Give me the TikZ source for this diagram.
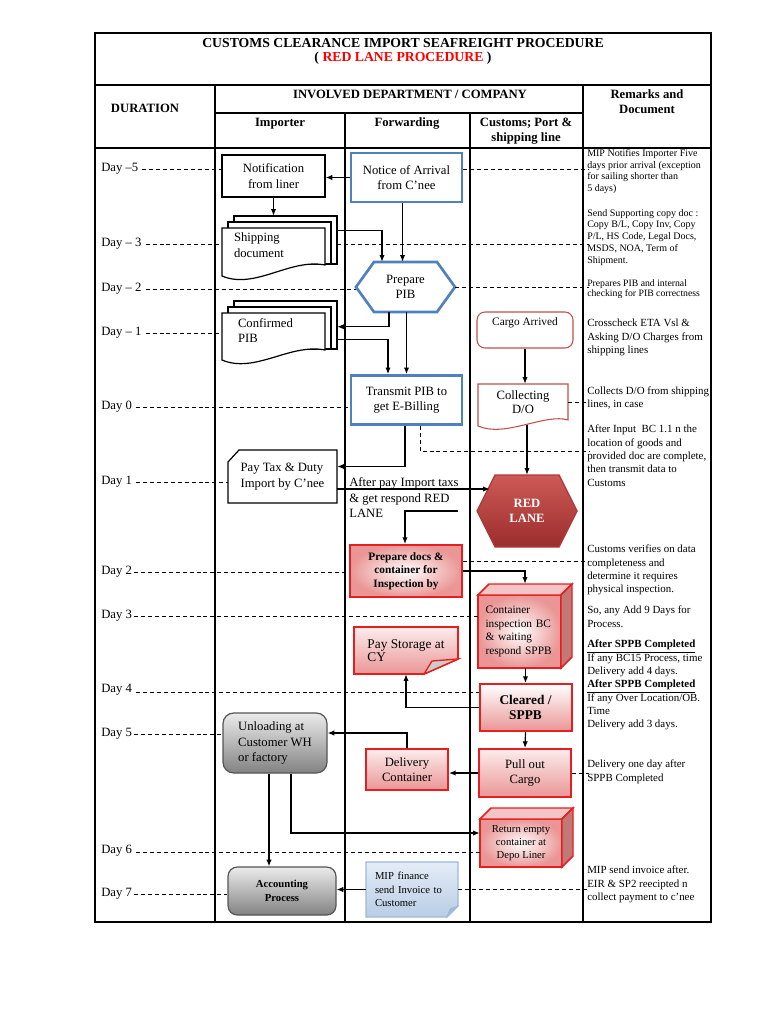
\documentclass[tikz,border=0pt]{standalone}
\usepackage{fontspec}
\setmainfont{Liberation Serif}
\usetikzlibrary{calc,arrows.meta}
\definecolor{pblue}{RGB}{79,129,189}
\definecolor{bred}{RGB}{232,30,30}
\definecolor{mred}{RGB}{192,80,77}
\definecolor{pinkA}{RGB}{252,236,236}
\definecolor{pinkB}{RGB}{234,150,150}
\definecolor{laneA}{RGB}{205,90,86}
\definecolor{laneB}{RGB}{155,45,45}
\definecolor{laneD}{RGB}{170,60,58}
\definecolor{grayA}{RGB}{235,235,235}
\definecolor{grayB}{RGB}{130,130,130}
\definecolor{grayD}{RGB}{85,85,85}
\definecolor{blueA}{RGB}{228,236,246}
\definecolor{blueB}{RGB}{185,205,229}
\definecolor{blueD}{RGB}{160,185,215}
\definecolor{sideR}{RGB}{195,120,120}
\newcommand\fs[2]{\fontsize{#1}{#2}\selectfont}
\begin{document}
\begin{tikzpicture}[x=0.75pt,y=-0.75pt,
  tline/.style={line width=0.8pt},
  cline/.style={line width=0.9pt},
  arr/.style={cline,-{Latex[length=5pt,width=4pt]}},
  dline/.style={line width=0.6pt,dash pattern=on 3pt off 2.2pt},
  txt/.style={inner sep=0pt,align=center,font=\fs{9.5}{11.5}},
  ltxt/.style={inner sep=0pt,align=left,font=\fs{9.5}{11.5}},
  rem/.style={anchor=north west,inner sep=0pt,align=left,font=\fs{8.2}{10}},
  daylbl/.style={anchor=west,inner sep=0pt,font=\fs{9.5}{11.5}},
  hdr/.style={inner sep=0pt,align=center,font=\bfseries\fs{9.5}{11}},
  wh/.style 2 args={minimum width=#1*0.75pt,minimum height=#2*0.75pt},
  redbox/.style={draw=bred,line width=1.5pt},
  cubeface/.style={draw=bred,line width=1.1pt},
]
\useasboundingbox[fill=white] (0,0) rectangle (768,1024);

% ---------- table ----------
\draw[tline] (95,33) rectangle (711,922);
\draw[tline] (95,85) -- (711,85);
\draw[tline] (215,113) -- (583,113);
\draw[tline] (95,148) -- (711,148);
\draw[tline] (215,85) -- (215,922);
\draw[tline] (583,85) -- (583,922);
\draw[tline] (345,113) -- (345,922);
\draw[tline] (470,113) -- (470,922);

\node[hdr,font=\bfseries\fs{10.3}{12}] (title) at (403,43) {CUSTOMS CLEARANCE IMPORT SEAFREIGHT PROCEDURE};
\node[hdr,font=\bfseries\fs{10.3}{12}] (subtitle) at (403,58) {( {\color{red}RED LANE PROCEDURE} )};
\node[hdr] (dur) at (145,108) {DURATION};
\node[hdr] (inv) at (410,94) {INVOLVED DEPARTMENT / COMPANY};
\node[hdr] (remh) at (647,102) {Remarks and\\Document};
\node[hdr] (imp) at (280,124) {Importer};
\node[hdr] (fwd) at (407,124) {Forwarding};
\node[hdr] (cus) at (526,131) {Customs; Port \&\\shipping line};

% ---------- day labels ----------
\node[daylbl] (dm5) at (101,169) {Day --5};
\node[daylbl] (dm3) at (101,244) {Day -- 3};
\node[daylbl] (dm2) at (101,289) {Day -- 2};
\node[daylbl] (dm1) at (101,333) {Day -- 1};
\node[daylbl] (d0) at (101,407) {Day 0};
\node[daylbl] (d1) at (101,482) {Day 1};
\node[daylbl] (d2) at (101,572) {Day 2};
\node[daylbl] (d3) at (101,616) {Day 3};
\node[daylbl] (d4) at (101,690) {Day 4};
\node[daylbl] (d5) at (101,734) {Day 5};
\node[daylbl] (d6) at (101,851) {Day 6};
\node[daylbl] (d7) at (101,894) {Day 7};
\coordinate (rx) at (589,0);

% ---------- shapes drawn directly ----------
% shipping document (multi document)
\foreach \d in {12,6}{\draw[cline,fill=white] (222+\d,228-\d) rectangle (325+\d,264);}
\draw[cline,fill=white] (222,228) -- (325,228) -- (325,265) .. controls (290,258) and (255,290) .. (222,276) -- cycle;
% confirmed PIB
\foreach \d in {12,6}{\draw[cline,fill=white] (222+\d,313-\d) rectangle (325+\d,349);}
\draw[cline,fill=white] (222,313) -- (325,313) -- (325,350) .. controls (290,343) and (255,374) .. (222,360) -- cycle;
% prepare PIB hexagon
\draw[draw=pblue,line width=2pt,fill=white] (356,287) -- (374,262) -- (437,262) -- (455,287) -- (437,312) -- (374,312) -- cycle;
% pay tax (cut corner)
\draw[cline,fill=white] (228,462) -- (239,450) -- (337,450) -- (337,503) -- (228,503) -- cycle;
% collecting D/O
\draw[draw=mred,line width=0.8pt,fill=white] (478,384) -- (568,384) -- (568,420) .. controls (545,413) and (505,438) .. (478,426) -- cycle;
% RED LANE hexagon
\draw[draw=laneD,line width=1pt,top color=laneA,bottom color=laneB] (477,511) -- (495,475) -- (559,475) -- (577,511) -- (559,547) -- (495,547) -- cycle;
% container inspection cube
\draw[cubeface,inner color=white,outer color=pinkB] (478,595) rectangle (561,668);
\draw[cubeface,fill=pinkB!55!white] (478,595) -- (489,584) -- (572,584) -- (561,595) -- cycle;
\draw[cubeface,fill=sideR] (561,595) -- (572,584) -- (572,657) -- (561,668) -- cycle;
% return empty cube
\draw[cubeface,inner color=white,outer color=pinkB] (480,819) rectangle (562,867);
\draw[cubeface,fill=pinkB!55!white] (480,819) -- (491,808) -- (573,808) -- (562,819) -- cycle;
\draw[cubeface,fill=sideR] (562,819) -- (573,808) -- (573,856) -- (562,867) -- cycle;
% pay storage note
\draw[draw=bred,line width=1.3pt,top color=pinkA,bottom color=pinkB] (354,627) -- (458,627) -- (458,659) -- (424,674) -- (354,674) -- cycle;
\draw[draw=bred,line width=1pt,fill=gray!40] (424,674) -- (432,661) -- (458,659) -- cycle;
% MIP finance note
\draw[draw=blueD,line width=0.8pt,top color=blueA,bottom color=blueB] (366,862) -- (458,862) -- (458,906) -- (447,917) -- (366,917) -- cycle;
\draw[draw=blueD,line width=0.6pt,fill=blueD] (447,917) -- (450,909) -- (458,906) -- cycle;

% ---------- nodes ----------
\node[txt,draw,cline,wh={103}{42}] (notif) at (273.5,176) {Notification\\from liner};
\node[txt,draw=pblue,line width=2pt,wh={111}{49}] (notice) at (406.5,177.5) {Notice of Arrival\\from C’nee};
\node[ltxt,text width=59.25pt,wh={103}{34}] (ship) at (273.5,245) {Shipping\\document};
\node[txt,wh={99}{50}] (pib) at (405.5,287) {Prepare\\PIB};
\node[ltxt,text width=53.25pt,wh={103}{35}] (conf) at (273.5,330.5) {Confirmed\\PIB};
\node[txt,draw=pblue,line width=2pt,wh={111}{49}] (trans) at (406.5,400) {Transmit PIB to\\get E-Billing};
\node[ltxt,wh={109}{53}] (paytax) at (282.5,476.5) {Pay Tax \& Duty\\Import by C’nee};
\node[ltxt,anchor=north west,font=\fs{9.5}{11.6}] (aftertxt) at (349,477.5) {After pay Import taxs\\\& get respond RED\\LANE};
\node[txt,draw=mred,line width=0.8pt,rounded corners=6pt,wh={96}{36},font=\fs{8.5}{10}] (cargo) at (525,330) {Cargo Arrived\\\strut};
\node[txt,wh={90}{36},font=\fs{9.5}{10.5}] (coll) at (523,402) {Collecting\\D/O};
\node[txt,wh={100}{72},text=white,font=\bfseries\fs{9.5}{11}] (redlane) at (527,511) {RED\\LANE};
\node[txt,redbox,inner color=white,outer color=pinkB,wh={112}{52},font=\bfseries\fs{8.5}{10}] (prep) at (406,571) {Prepare docs \&\\container for\\Inspection by};
\node[ltxt,text width=51pt,wh={83}{73},font=\fs{8.5}{10.2}] (cont) at (519.5,631.5) {Container\\inspection BC\\\& waiting\\respond SPPB};
\node[ltxt,wh={104}{47},font=\fs{10}{10}] (store) at (406,650.5) {Pay Storage at\\CY};
\node[txt,redbox,top color=white,bottom color=pinkB,wh={92}{47},font=\bfseries\fs{10}{11.5}] (clear) at (525.5,707.5) {Cleared /\\SPPB};
\node[txt,redbox,top color=pinkA,bottom color=pinkB,wh={92}{48}] (pull) at (525,773) {Pull out\\Cargo};
\node[txt,redbox,top color=pinkA,bottom color=pinkB,wh={82}{41}] (deliv) at (407,769.5) {Delivery\\Container};
\node[ltxt,draw=grayD,line width=0.9pt,rounded corners=8pt,top color=grayA,bottom color=grayB,wh={104}{60},font=\fs{9.5}{11.3}] (unload) at (275,743) {Unloading at\\Customer WH\\or factory};
\node[txt,wh={82}{48},font=\fs{8}{9.5}] (ret) at (521,843) {Return empty\\container at\\Depo Liner};
\node[txt,draw=grayD,line width=0.9pt,rounded corners=7pt,top color=grayA,bottom color=grayB,wh={108}{48},font=\bfseries\fs{8}{10}] (acct) at (282,891) {Accounting\\Process};
\node[ltxt,text width=55.5pt,wh={92}{55},font=\fs{8}{10}] (mip) at (412,889.5) {MIP finance\\send Invoice to\\Customer};

% ---------- remarks ----------
\node[rem,font=\fs{7.5}{8.8}] (r1) at (587,149) {MIP Notifies Importer Five\\days prior arrival (exception\\for sailing shorter than\\5 days)};
\node[rem,font=\fs{7.5}{8.8}] (r2) at (587,209) {Send Supporting copy doc :\\Copy B/L, Copy Inv, Copy\\P/L, HS Code, Legal Docs,\\MSDS, NOA, Term of\\Shipment.};
\node[rem,font=\fs{7.3}{7.8}] (r3) at (587,279) {Prepares PIB and internal\\checking for PIB correctness};
\node[rem] (r4) at (587,319) {Crosscheck ETA Vsl \&\\Asking D/O Charges from\\shipping lines};
\node[rem,font=\fs{8.2}{9.6}] (r5) at (587,387) {Collects D/O from shipping\\lines, in case};
\node[rem] (r6) at (587,425) {After Input\ \ BC 1.1 n the\\location of goods and\\provided doc are complete,\\then transmit data to\\Customs};
\node[rem] (r7) at (587,545) {Customs verifies on data\\completeness and\\determine it requires\\physical inspection.};
\node[rem] (r8) at (587,606) {So, any Add 9 Days for\\Process.};
\node[rem] (r9) at (587,640) {\textbf{\underline{After SPPB Completed}}\\If any BC15 Process, time\\Delivery add 4 days.\\\textbf{\underline{After SPPB Completed}}\\If any Over Location/OB.\\Time\\Delivery add 3 days.};
\node[rem] (r10) at (587,760) {Delivery one day after\\SPPB Completed};
\node[rem] (r11) at (587,866) {MIP send invoice after.\\EIR \& SP2 reecipted n\\collect payment to c’nee};

% ---------- dashed guide lines ----------
\draw[dline] ($(dm5.east)+(4,0)$) -- (dm5.east -| notif.west);
\draw[dline] ($(dm3.east)+(4,0)$) -- (dm3.east -| ship.west);
\draw[dline] ($(dm2.east)+(4,0)$) -- (dm2.east -| pib.west);
\draw[dline] ($(dm1.east)+(4,0)$) -- (dm1.east -| conf.west);
\draw[dline] ($(d0.east)+(4,0)$) -- (d0.east -| trans.west);
\draw[dline] ($(d1.east)+(4,0)$) -- (d1.east -| paytax.west);
\draw[dline] ($(d2.east)+(2,0)$) -- (d2.east -| prep.west);
\draw[dline] ($(d3.east)+(2,0)$) -- (d3.east -| cont.west);
\draw[dline] ($(d4.east)+(4,2)$) -- ($(d4.east -| clear.west)+(0,2)$);
\draw[dline] ($(d5.east)+(2,0)$) -- (d5.east -| unload.west);
\draw[dline] ($(d6.east)+(4,1)$) -- ($(d6.east -| ret.west)+(0,1)$);
\draw[dline] ($(d7.east)+(2,0)$) -- (d7.east -| acct.west);

\draw[dline] (notice.east |- dm5.east) -- (rx |- dm5.east);
\draw[dline] ($(ship.east)+(12,-1)$) -- (rx |- dm3.east);
\draw[dline] (pib.east) -- (pib.east -| rx);
\draw[dline] (coll.east) -- (coll.east -| rx);
\draw[dline] ($(trans.south)+(13.5,0)$) |- ($(rx)+(0,451)$);
\draw[dline] ($(prep.east)+(0,-10)$) -- ($(rx)+(0,561)$);
\draw[dline] (pull.east) -- (pull.east -| rx);
\draw[dline] (mip.east) -- (mip.east -| rx);

% ---------- connectors ----------
\draw[arr] (notice.west) -- (notice.west -| notif.east);
\draw[arr] (notif.south) -- ($(ship.north)+(0,-12)$);
\draw[arr] ($(ship.north east)+(12,3)$) -| ($(pib.north)+(-23.5,0)$);
\draw[arr] ($(notice.south)+(-4,0)$) -- ($(pib.north)+(-3,0)$);
\draw[arr] ($(pib.south)+(-16.5,0)$) |- ($(conf.north east)+(12,14)$);
\draw[arr] (trans.north |- pib.south) -- (trans.north);
\draw[arr] ($(conf.north east)+(12,27)$) -| ($(trans.north)+(-18.5,0)$);
\draw[arr] ($(trans.south)+(-1.5,0)$) |- ($(paytax.east)+(0,-10)$);
\draw[arr] ($(paytax.east)+(0,12.5)$) -- ($(redlane.west)+(13,-22)$);
\draw[arr] ($(redlane.west)+(-19,0)$) -| ($(prep.north)+(-1,0)$);
\draw[arr] (prep.east) -| ($(cont.north)+(5.5,-11)$);
\draw[arr] (cargo.south) -- (cargo.south |- coll.north);
\draw[arr] ($(coll.south)+(4,5)$) -- (redlane.north);
\draw[arr] (clear.north |- cont.south) -- (clear.north);
\draw[arr] (clear.west) -| (store.south);
\draw[arr] (clear.south) -- (pull.north);
\draw[arr] (pull.west) -- (pull.west -| deliv.east);
\draw[arr] (deliv.north) |- ($(unload.east)+(0,-10)$);
\draw[arr] ($(unload.south)+(-6,0)$) -- ($(acct.north)+(-13,0)$);
\draw[arr] ($(unload.south)+(16,0)$) |- ($(ret.west)+(0,-10)$);
\draw[arr] (mip.west) -- (mip.west -| acct.east);
\end{tikzpicture}
\end{document}
